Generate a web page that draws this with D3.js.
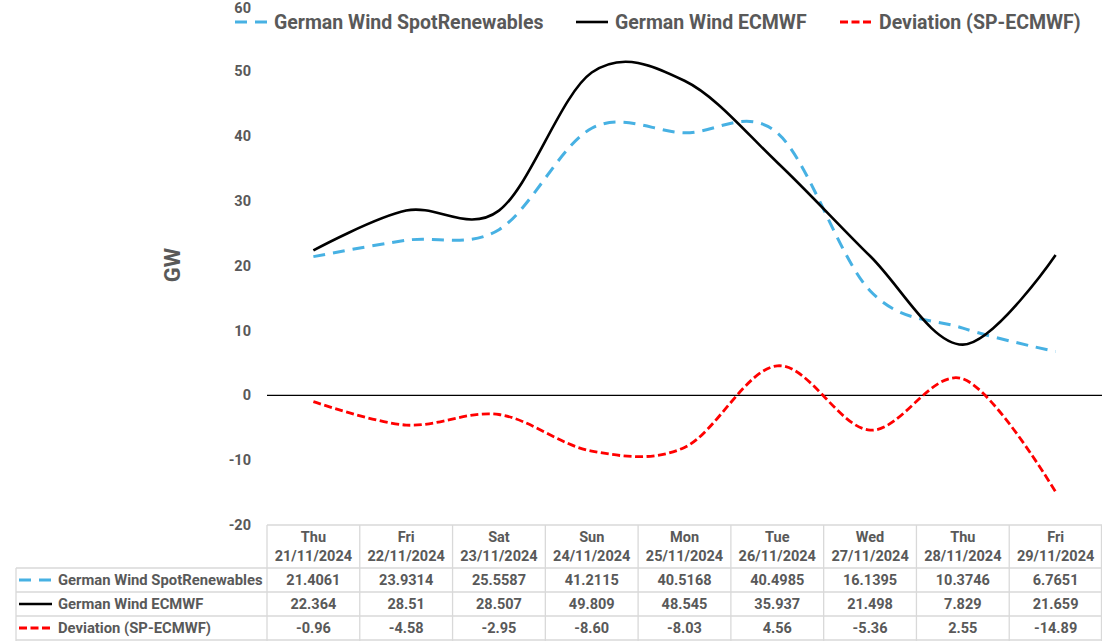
<!DOCTYPE html>
<html>
<head>
<meta charset="utf-8">
<script src="https://cdn.jsdelivr.net/npm/d3@7"></script>
<style>
  html, body { margin: 0; padding: 0; background: #fff; }
  svg { display: block; }
  text { font-family: Roboto, "Liberation Sans", sans-serif; font-weight: bold; fill: #595959; }
</style>
</head>
<body>
<svg id="chart" width="1102" height="641"></svg>
<script>
const days = ["Thu", "Fri", "Sat", "Sun", "Mon", "Tue", "Wed", "Thu", "Fri"];
const dates = ["21/11/2024", "22/11/2024", "23/11/2024", "24/11/2024", "25/11/2024",
               "26/11/2024", "27/11/2024", "28/11/2024", "29/11/2024"];
const spotRenewables = [21.4061, 23.9314, 25.5587, 41.2115, 40.5168, 40.4985, 16.1395, 10.3746, 6.7651];
const ecmwf = [22.364, 28.51, 28.507, 49.809, 48.545, 35.937, 21.498, 7.829, 21.659];
const deviation = [-0.96, -4.58, -2.95, -8.60, -8.03, 4.56, -5.36, 2.55, -14.89];
const yTicks = [-20, -10, 0, 10, 20, 30, 40, 50, 60];

const series = [
  { name: "German Wind SpotRenewables", values: spotRenewables, color: "#47b1e3", width: 3, dash: "12,8",
    fmt: d => String(d) },
  { name: "German Wind ECMWF", values: ecmwf, color: "#000000", width: 2.6, dash: null,
    fmt: d => String(d) },
  { name: "Deviation (SP-ECMWF)", values: deviation, color: "#ff0000", width: 2.8, dash: "8,3.5",
    fmt: d => d.toFixed(2) }
];

const svg = d3.select("#chart");
const plotLeft = 267, plotRight = 1102, plotTop = 6.5, plotBottom = 525;

const x = d3.scaleBand().domain(d3.range(days.length)).range([plotLeft, plotRight]);
const y = d3.scaleLinear().domain([-20, 60]).range([plotBottom, plotTop]);

// y tick labels
svg.append("g").selectAll("text")
  .data(yTicks)
  .join("text")
  .attr("x", 251)
  .attr("y", d => Math.max(y(d), 7.5))
  .attr("dy", "0.35em")
  .attr("text-anchor", "end")
  .attr("font-size", 14.5)
  .text(d => d);

// y axis title
svg.append("text")
  .attr("transform", "translate(180,265) rotate(-90)")
  .attr("text-anchor", "middle")
  .attr("font-size", 22)
  .text("GW");

// zero line
svg.append("line")
  .attr("x1", plotLeft).attr("x2", plotRight)
  .attr("y1", y(0)).attr("y2", y(0))
  .attr("stroke", "#000").attr("stroke-width", 1.3);

// series lines, Excel-style smoothing
const line = d3.line()
  .x((d, i) => x(i) + x.bandwidth() / 2)
  .y(d => y(d))
  .curve(d3.curveCardinal.tension(0));

svg.append("g").selectAll("path")
  .data(series)
  .join("path")
  .attr("d", s => line(s.values))
  .attr("fill", "none")
  .attr("stroke", s => s.color)
  .attr("stroke-width", s => s.width)
  .attr("stroke-dasharray", s => s.dash);

// legend on top
const legendPos = [{ x: 235, tx: 274 }, { x: 576, tx: 615 }, { x: 840, tx: 879 }];
const legend = svg.append("g").selectAll("g")
  .data(series)
  .join("g")
  .attr("transform", "translate(0,22)");
legend.append("line")
  .attr("x1", (s, i) => legendPos[i].x)
  .attr("x2", (s, i) => legendPos[i].x + 32)
  .attr("stroke", s => s.color)
  .attr("stroke-width", s => s.width)
  .attr("stroke-dasharray", s => s.dash);
legend.append("text")
  .attr("x", (s, i) => legendPos[i].tx)
  .attr("dy", "0.35em")
  .attr("font-size", 19.5)
  .text(s => s.name);

// data table
const grid = "#d9d9d9";
const headerTop = plotBottom, headerBottom = 568, rowH = 24, tableLeft = 16;
const table = svg.append("g");

// vertical lines for columns
const edges = d3.range(days.length + 1).map(i => i < days.length ? x(i) : plotRight - 0.5);
table.selectAll("line.v")
  .data(edges)
  .join("line")
  .attr("class", "v")
  .attr("x1", d => d).attr("x2", d => d)
  .attr("y1", headerTop).attr("y2", 641)
  .attr("stroke", grid).attr("stroke-width", 1.3);
// left column edge
table.append("line")
  .attr("x1", tableLeft).attr("x2", tableLeft)
  .attr("y1", headerBottom).attr("y2", 641)
  .attr("stroke", grid).attr("stroke-width", 1.3);
// horizontal lines
table.append("line")
  .attr("x1", plotLeft).attr("x2", plotRight)
  .attr("y1", headerTop).attr("y2", headerTop)
  .attr("stroke", grid).attr("stroke-width", 1.3);
table.selectAll("line.h")
  .data(d3.range(4))
  .join("line")
  .attr("class", "h")
  .attr("x1", tableLeft).attr("x2", plotRight)
  .attr("y1", i => headerBottom + i * rowH).attr("y2", i => headerBottom + i * rowH)
  .attr("stroke", grid).attr("stroke-width", 1.3);

// header labels
const header = table.selectAll("g.head")
  .data(days)
  .join("g")
  .attr("class", "head")
  .attr("transform", (d, i) => `translate(${x(i) + x.bandwidth() / 2},0)`);
header.append("text")
  .attr("y", 537).attr("dy", "0.35em")
  .attr("text-anchor", "middle")
  .attr("font-size", 14.5)
  .text(d => d);
header.append("text")
  .attr("y", 556).attr("dy", "0.35em")
  .attr("text-anchor", "middle")
  .attr("font-size", 14.5)
  .text((d, i) => dates[i]);

// series rows
const rows = table.selectAll("g.row")
  .data(series)
  .join("g")
  .attr("class", "row")
  .attr("transform", (s, i) => `translate(0,${headerBottom + i * rowH + rowH / 2})`);
rows.append("line")
  .attr("x1", 19).attr("x2", 52)
  .attr("stroke", s => s.color)
  .attr("stroke-width", s => s.width)
  .attr("stroke-dasharray", s => s.dash);
rows.append("text")
  .attr("x", 58).attr("dy", "0.35em")
  .attr("font-size", 14.8)
  .text(s => s.name);
rows.selectAll("text.val")
  .data(s => s.values.map(v => s.fmt(v)))
  .join("text")
  .attr("class", "val")
  .attr("x", (d, i) => x(i) + x.bandwidth() / 2)
  .attr("dy", "0.35em")
  .attr("text-anchor", "middle")
  .attr("font-size", 14.5)
  .text(d => d);
</script>
</body>
</html>
